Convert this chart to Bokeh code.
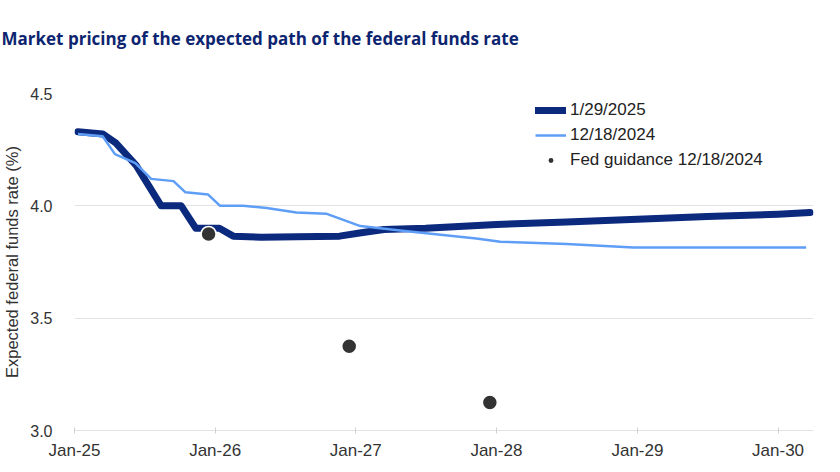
import pandas as pd
from bokeh.plotting import figure
from bokeh.models import (Range1d, DatetimeTickFormatter, FixedTicker, Legend, LegendItem,
                          CustomJSTickFormatter, Title)
from bokeh.embed import file_html
from bokeh.resources import INLINE

# ---- data ----
dark_dates = ["2025-01-10", "2025-03-15", "2025-04-18", "2025-06-10", "2025-08-14",
              "2025-10-05", "2025-11-12", "2026-01-12", "2026-02-17", "2026-05-01",
              "2026-08-01", "2026-11-20", "2027-01-15", "2027-03-15", "2027-07-01",
              "2028-01-01", "2028-07-01", "2029-01-01", "2029-07-01", "2030-01-01",
              "2030-03-25"]
dark_vals = [4.33, 4.32, 4.28, 4.18, 4.00,
             4.00, 3.90, 3.90, 3.865, 3.86,
             3.862, 3.865, 3.88, 3.895, 3.90,
             3.917, 3.928, 3.94, 3.952, 3.963,
             3.97]
light_dates = ["2025-01-10", "2025-03-15", "2025-04-16", "2025-06-08", "2025-07-19",
               "2025-09-15", "2025-10-16", "2025-12-14", "2026-01-14", "2026-03-15",
               "2026-05-15", "2026-07-31", "2026-10-16", "2027-01-13", "2027-04-26",
               "2027-11-10", "2028-01-11", "2028-07-01", "2028-12-22", "2030-03-15"]
light_vals = [4.32, 4.31, 4.23, 4.19, 4.12,
              4.11, 4.06, 4.05, 4.00, 4.00,
              3.99, 3.97, 3.965, 3.91, 3.89,
              3.855, 3.84, 3.83, 3.815, 3.815]
fed_dates = ["2025-12-15", "2026-12-15", "2027-12-15"]
fed_vals = [3.875, 3.375, 3.125]
tick_dates = ["2025-01-01", "2026-01-01", "2027-01-01", "2028-01-01", "2029-01-01", "2030-01-01"]
y_ticks = [3.0, 3.5, 4.0, 4.5]

title_text = "Market pricing of the expected path of the federal funds rate"
y_label = "Expected federal funds rate (%)"
labels = ["1/29/2025", "12/18/2024", "Fed guidance 12/18/2024"]

DARK = "#0b2a7e"
LIGHT = "#5f9ef6"
DOT = "#333333"
NAVY = "#0d2570"
GRID = "#e2e2e2"
FONT = "Liberation Sans"

dx = pd.to_datetime(dark_dates)
lx = pd.to_datetime(light_dates)
fx = pd.to_datetime(fed_dates)
tx = [pd.Timestamp(d).value / 1e6 for d in tick_dates]

FW, FH = 739, 337
p = figure(frame_width=FW, frame_height=FH, x_axis_type="datetime",
           output_backend="svg", toolbar_location=None,
           x_range=Range1d(pd.Timestamp("2025-01-01"), pd.Timestamp("2030-04-03")),
           y_range=Range1d(3.0, 4.5),
           min_border_left=71, min_border_right=26, min_border_top=93, min_border_bottom=38)

# spacer between frame and title, then the real title (stacked outward)
spacer = Title(text=" ", text_font_size="1px", standoff=41)
p.add_layout(spacer, "above")
main_title = Title(text=title_text, text_font="Open Sans", text_font_size="17px",
                   text_font_style="bold", text_color=NAVY, standoff=0, offset=-73,
                   align="left")
p.add_layout(main_title, "above")

p.outline_line_color = None
p.xgrid.visible = False
p.ygrid.grid_line_color = GRID
p.ygrid.grid_line_width = 1

p.yaxis.ticker = FixedTicker(ticks=y_ticks)
p.yaxis.formatter = CustomJSTickFormatter(code="return tick.toFixed(1)")
p.yaxis.axis_line_color = None
p.yaxis.major_tick_line_color = None
p.yaxis.minor_tick_line_color = None
p.yaxis.major_label_standoff = 16
p.yaxis.major_label_text_font = FONT
p.yaxis.major_label_text_font_size = "16px"
p.yaxis.major_label_text_color = "#333333"
p.yaxis.axis_label = y_label
p.yaxis.axis_label_text_font = FONT
p.yaxis.axis_label_text_font_size = "16.5px"
p.yaxis.axis_label_text_font_style = "normal"
p.yaxis.axis_label_text_color = "#333333"
p.yaxis.axis_label_standoff = 6

p.xaxis.ticker = FixedTicker(ticks=tx)
p.xaxis.formatter = DatetimeTickFormatter(years="%b-%y", months="%b-%y", days="%b-%y")
p.xaxis.axis_line_color = GRID
p.xaxis.major_tick_line_color = "#d0d0d0"
p.xaxis.major_tick_in = 3
p.xaxis.major_tick_out = 3
p.xaxis.minor_tick_line_color = None
p.xaxis.major_label_standoff = 7
p.xaxis.major_label_text_font = FONT
p.xaxis.major_label_text_font_size = "17px"
p.xaxis.major_label_text_color = "#333333"

r_dark = p.line(dx, dark_vals, line_color=DARK, line_width=7, line_cap="round", line_join="round")
r_light = p.line(lx, light_vals, line_color=LIGHT, line_width=2.5, line_join="round")
r_fed = p.scatter(fx, fed_vals, size=15, fill_color=DOT, line_color="white", line_width=1.5)

legend = Legend(items=[LegendItem(label=labels[0], renderers=[r_dark]),
                       LegendItem(label=labels[1], renderers=[r_light]),
                       LegendItem(label=labels[2], renderers=[r_fed])],
                location=(461, 260), orientation="vertical",
                glyph_width=31, glyph_height=16, label_height=16, spacing=5,
                padding=0, margin=0, label_standoff=4,
                label_text_font=FONT, label_text_font_size="17px", label_text_color="#222222",
                background_fill_alpha=0, border_line_alpha=0)
p.add_layout(legend, "center")

open("out.html", "w").write(file_html(p, INLINE))
